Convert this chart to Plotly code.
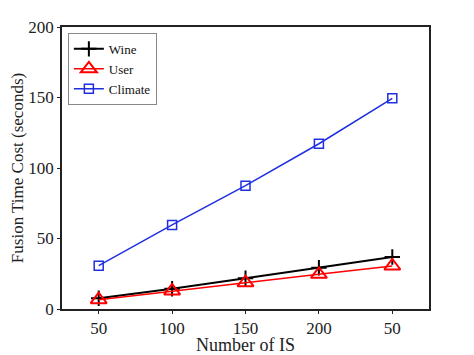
import plotly.graph_objects as go

x_pos = [1, 2, 3, 4, 5]
tick_labels = ["50", "100", "150", "200", "50"]
wine = [7.6, 14.4, 21.8, 29.3, 36.9]
user = [6.6, 12.8, 18.7, 24.6, 30.5]
climate = [30.7, 59.6, 87.5, 117.2, 149.4]

font = "Liberation Serif, Times New Roman, serif"

fig = go.Figure()
fig.add_trace(go.Scatter(x=x_pos, y=wine, name="Wine", mode="lines+markers",
                         line=dict(color="black", width=2),
                         marker=dict(symbol="cross-thin-open", size=11, line=dict(color="black", width=2))))
fig.add_trace(go.Scatter(x=x_pos, y=user, name="User", mode="lines+markers",
                         line=dict(color="#ff0000", width=1.5),
                         marker=dict(symbol="triangle-up-open", size=14, color="#ff0000", line=dict(color="#ff0000", width=2))))
fig.add_trace(go.Scatter(x=x_pos, y=climate, name="Climate", mode="lines+markers",
                         line=dict(color="#1f2fe0", width=1.5),
                         marker=dict(symbol="square-open", size=9, color="#1f2fe0", line=dict(color="#1f2fe0", width=1.5))))

fig.update_layout(
    width=466, height=347,
    margin=dict(l=54, r=45, t=19, b=46),
    paper_bgcolor="white", plot_bgcolor="white",
    font=dict(family=font, color="#222", size=17),
    showlegend=True,
    legend=dict(x=0.016, y=0.979, xanchor="left", yanchor="top",
                bgcolor="white", bordercolor="#888", borderwidth=1,
                font=dict(family=font, size=13, color="#111"),
                tracegroupgap=0, itemwidth=30),
    xaxis=dict(range=[0.5, 5.5], tickvals=x_pos, ticktext=tick_labels, automargin=False,
               showline=True, linecolor="#222", linewidth=1.5, mirror=True,
               ticks="outside", ticklen=3, tickcolor="#222", showgrid=False, zeroline=False,
               title=dict(text="Number of IS", font=dict(size=18), standoff=2)),
    yaxis=dict(range=[0, 200], tickvals=[0, 50, 100, 150, 200], automargin=False,
               showline=True, linecolor="#222", linewidth=1.5, mirror=True,
               ticks="outside", ticklen=3, tickcolor="#222", showgrid=False, zeroline=False,
               title=dict(text="Fusion Time Cost (seconds)", font=dict(size=17), standoff=6)),
)

fig.write_html("out.html")
